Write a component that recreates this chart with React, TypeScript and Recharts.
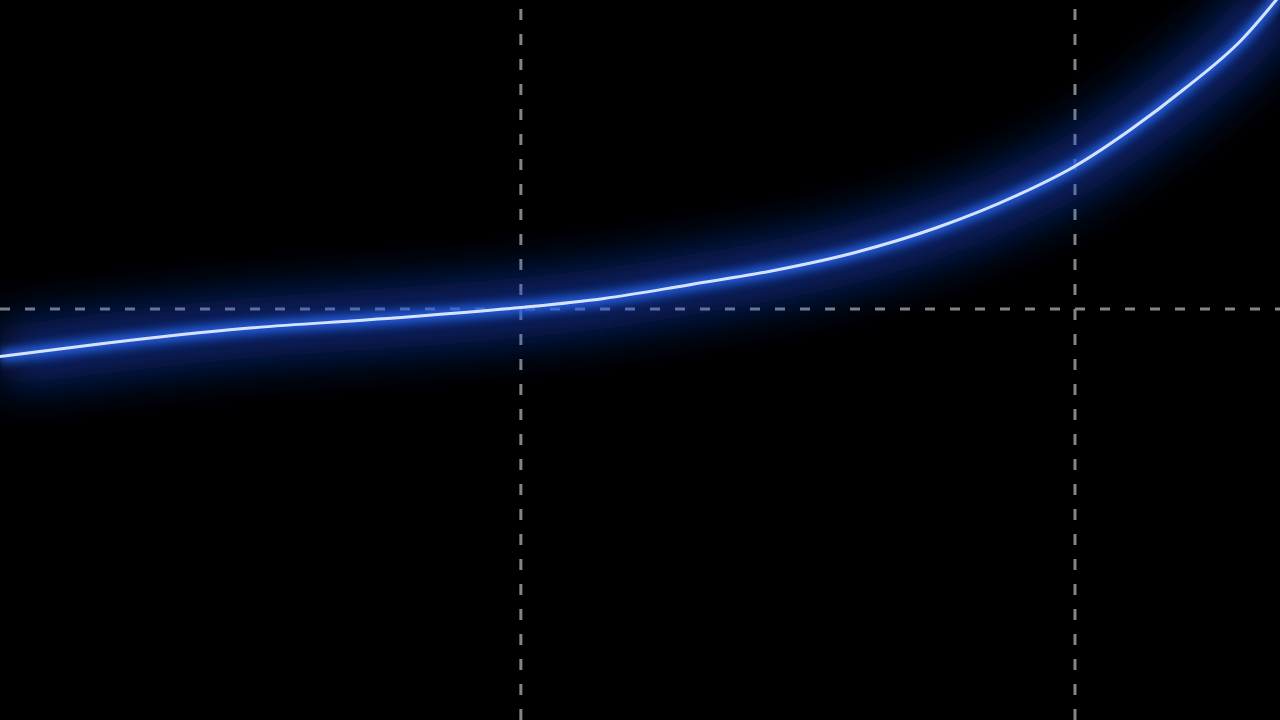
import React from 'react'
import { LineChart, XAxis, YAxis, Line, ReferenceLine } from 'recharts'

const xValues = [-0.94, -0.75, -0.5, -0.25, 0, 0.15, 0.3, 0.45, 0.6, 0.75, 0.9, 1.0, 1.1, 1.2, 1.3, 1.37]
const yValues = [-0.34, -0.245, -0.14, -0.07, 0.01, 0.075, 0.17, 0.27, 0.4, 0.58, 0.82, 1.02, 1.28, 1.58, 1.92, 2.24]
const gridX = [0, 1]
const gridY = [0]

const data = xValues.map((x, i) => ({ x, y: yValues[i] }))

const App: React.FC = () => {
  return (
    <div style={PageStyle}>
      <LineChart
        width={1280}
        height={720}
        data={data}
        margin={{ top: 0, right: 0, left: 0, bottom: 0 }}
      >
        <defs>
          <filter id="glow" x="-30%" y="-80%" width="160%" height="260%">
            <feGaussianBlur stdDeviation="24" />
          </filter>
          <filter id="soft" x="-20%" y="-50%" width="140%" height="200%">
            <feGaussianBlur stdDeviation="5" />
          </filter>
        </defs>
        <XAxis dataKey="x" type="number" domain={[-0.94, 1.37]} hide allowDataOverflow />
        <YAxis type="number" domain={[-2.936, 2.207]} hide allowDataOverflow />
        {gridX.map((v) => (
          <ReferenceLine key={'vx' + v} x={v} stroke="#858585" strokeWidth={3} strokeDasharray="11 14" />
        ))}
        {gridY.map((v) => (
          <ReferenceLine key={'hy' + v} y={v} stroke="#858585" strokeWidth={3} strokeDasharray="10 15" />
        ))}
        <Line
          dataKey="y"
          type="monotone"
          stroke="#1048d8"
          strokeWidth={60}
          strokeOpacity={0.55}
          filter="url(#glow)"
          dot={false}
          activeDot={false}
          isAnimationActive={false}
        />
        <Line
          dataKey="y"
          type="monotone"
          stroke="#2a66f0"
          strokeWidth={12}
          strokeOpacity={0.9}
          filter="url(#soft)"
          dot={false}
          activeDot={false}
          isAnimationActive={false}
        />
        <Line
          dataKey="y"
          type="monotone"
          stroke="#d6e3ff"
          strokeWidth={3}
          dot={false}
          activeDot={false}
          isAnimationActive={false}
        />
      </LineChart>
    </div>
  )
}

const PageStyle: React.CSSProperties = {
  position: 'fixed',
  top: 0,
  left: 0,
  width: 1280,
  height: 720,
  background: '#000',
  overflow: 'hidden',
}

export default App
